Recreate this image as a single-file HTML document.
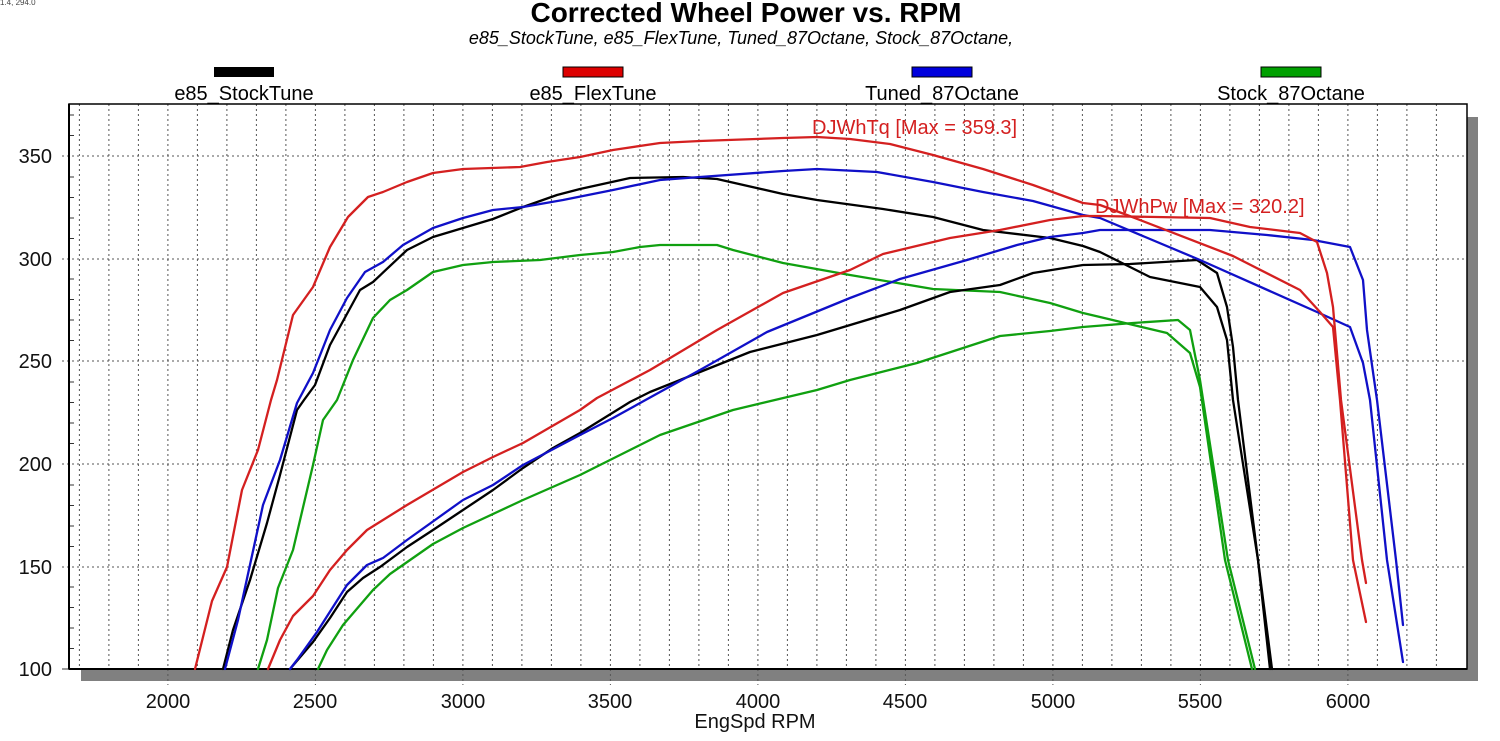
<!DOCTYPE html>
<html><head><meta charset="utf-8"><style>
html,body{margin:0;padding:0;background:#fff;}
svg{display:block;font-family:"Liberation Sans",Arial,sans-serif;}
</style></head><body>
<svg width="1500" height="741" viewBox="0 0 1500 741" xmlns="http://www.w3.org/2000/svg">
<rect width="1500" height="741" fill="#fff"/>
<text x="0" y="5" font-size="8" fill="#444">1.4, 294.0</text>
<text x="746" y="22" font-size="28" font-weight="bold" text-anchor="middle" fill="#000">Corrected Wheel Power vs. RPM</text>
<text x="741" y="44" font-size="18" font-style="italic" text-anchor="middle" fill="#000">e85_StockTune, e85_FlexTune, Tuned_87Octane, Stock_87Octane,</text>
<rect x="214" y="67" width="60" height="10" fill="#000"/>
<rect x="563" y="67" width="60" height="10" fill="#dd0000" stroke="#000" stroke-width="1"/>
<rect x="912" y="67" width="60" height="10" fill="#0000dd" stroke="#000" stroke-width="1"/>
<rect x="1261" y="67" width="60" height="10" fill="#00a000" stroke="#000" stroke-width="1"/>
<g font-size="20" text-anchor="middle" fill="#000">
<text x="244" y="100">e85_StockTune</text>
<text x="593" y="100">e85_FlexTune</text>
<text x="942" y="100">Tuned_87Octane</text>
<text x="1291" y="100">Stock_87Octane</text>
</g>
<rect x="1467" y="117" width="11" height="564" fill="#808080"/>
<rect x="81" y="669" width="1397" height="12" fill="#808080"/>
<rect x="69" y="104" width="1398" height="565" fill="#fff"/>
<g stroke="#555" stroke-width="1" stroke-dasharray="2,3" fill="none">
<path d="M79.4 104V669M108.9 104V669M138.4 104V669M167.9 104V685M197.4 104V669M226.9 104V669M256.4 104V669M285.9 104V669M315.4 104V685M344.9 104V669M374.4 104V669M403.9 104V669M433.4 104V669M462.9 104V685M492.4 104V669M521.9 104V669M551.4 104V669M580.9 104V669M610.4 104V685M639.9 104V669M669.4 104V669M698.9 104V669M728.4 104V669M757.9 104V685M787.4 104V669M816.9 104V669M846.4 104V669M875.9 104V669M905.4 104V685M934.9 104V669M964.4 104V669M993.9 104V669M1023.4 104V669M1052.9 104V685M1082.4 104V669M1111.9 104V669M1141.4 104V669M1170.9 104V669M1200.4 104V685M1229.9 104V669M1259.4 104V669M1288.9 104V669M1318.4 104V669M1347.9 104V685M1377.4 104V669M1406.9 104V669M1436.4 104V669"/>
<path d="M62 156H1467M62 259H1467M62 361H1467M62 464H1467M62 567H1467"/>
</g>
<g stroke="#333" stroke-width="1">
<path d="M69 648.5h5M69 628h5M69 607.5h5M69 587h5M69 546.5h5M69 526h5M69 505.5h5M69 485h5M69 443.5h5M69 423h5M69 402.5h5M69 382h5M69 340.5h5M69 320h5M69 299.5h5M69 279h5M69 238.5h5M69 218h5M69 197.5h5M69 177h5M69 135.5h5M69 115h5M62 669h7"/>
</g>
<rect x="69" y="104" width="1398" height="565" fill="none" stroke="#000" stroke-width="1.5"/>
<line x1="69" y1="104" x2="69" y2="669" stroke="#000" stroke-width="2"/>
<line x1="69" y1="669" x2="1467" y2="669" stroke="#000" stroke-width="2"/>
<g font-size="20" text-anchor="end" fill="#111">
<text x="52" y="676">100</text>
<text x="52" y="574">150</text>
<text x="52" y="471">200</text>
<text x="52" y="368">250</text>
<text x="52" y="266">300</text>
<text x="52" y="163">350</text>
</g>
<g font-size="20" text-anchor="middle" fill="#111">
<text x="168" y="708">2000</text>
<text x="315" y="708">2500</text>
<text x="463" y="708">3000</text>
<text x="610" y="708">3500</text>
<text x="758" y="708">4000</text>
<text x="905" y="708">4500</text>
<text x="1053" y="708">5000</text>
<text x="1200" y="708">5500</text>
<text x="1348" y="708">6000</text>
<text x="755" y="728">EngSpd RPM</text>
</g>
<g fill="none" stroke-linejoin="round" stroke-linecap="round" stroke-width="2.3">
<polyline stroke="#10a010" points="258,669 267,640 278,588 293,550 313,465 323,420 337,400 353,360 373,318 390,300 407,290 433,272 463,265 493,262 540,260 580,255 613,252 640,247 660,245 717,245 733,250 783,263 850,275 933,289 1000,292 1050,303 1083,313 1100,317 1167,333 1190,353 1200,387 1212,470 1225,560 1252,669"/>
<polyline stroke="#10a010" points="318,669 327,650 343,625 373,590 390,574 433,544 463,528 523,500 580,475 610,460 660,435 733,410 817,390 850,380 917,363 1000,336 1050,331 1083,327 1133,323 1178,320 1190,330 1200,380 1214,470 1228,560 1255,669"/>
<polyline stroke="#000" points="223,669 233,630 250,580 267,523 280,475 297,410 304,400 315,385 330,345 360,290 373,282 407,250 433,237 463,228 493,219 523,207 557,195 580,189 630,178 683,177 717,179 783,194 817,200 883,209 933,217 983,230 1050,238 1083,246 1100,252 1150,277 1200,287 1217,307 1227,340 1233,400 1258,560 1272,669"/>
<polyline stroke="#000" points="290,669 313,642 330,618 347,592 363,578 380,567 407,547 433,530 463,510 493,490 523,468 553,448 580,433 630,402 650,392 700,372 750,352 817,335 900,310 950,292 1000,285 1033,273 1083,265 1130,264 1197,260 1217,273 1227,307 1233,347 1238,400 1258,560 1270,669"/>
<polyline stroke="#1010c8" points="225,669 238,620 263,505 280,460 297,403 313,373 330,330 347,298 365,272 383,262 403,245 433,228 463,218 493,210 523,207 563,200 613,190 660,180 700,177 783,171 817,169 877,172 933,182 983,192 1033,201 1083,215 1100,218 1200,260 1317,312 1350,327 1363,363 1370,400 1387,560 1403,662"/>
<polyline stroke="#1010c8" points="290,669 297,660 317,632 347,585 367,565 383,558 407,540 463,500 493,485 523,465 580,435 613,418 660,392 700,370 767,332 850,298 900,279 967,260 1017,245 1050,237 1083,233 1100,230 1210,230 1267,235 1313,240 1350,247 1363,280 1367,330 1377,400 1396,560 1403,625"/>
<polyline stroke="#d42020" points="195,669 212,601 227,567 242,490 258,450 271,400 277,380 293,315 313,287 330,247 348,217 368,197 383,192 407,182 433,173 463,169 520,167 547,162 580,157 613,150 660,143 700,141 783,138 817,137 850,139 890,144 933,155 983,169 1033,185 1083,203 1100,205 1127,215 1233,256 1300,290 1320,312 1333,327 1340,400 1353,560 1366,622"/>
<polyline stroke="#d42020" points="268,669 280,640 293,616 313,596 330,570 347,550 367,530 407,505 463,472 493,457 523,443 580,410 597,398 650,370 717,330 783,293 850,270 883,254 950,238 1000,230 1050,220 1083,216 1100,216 1210,218 1250,227 1300,233 1317,242 1327,273 1333,307 1341,400 1362,560 1366,583"/>
</g>
<g font-size="20" fill="#d42020">
<text x="812" y="134">DJWhTq [Max = 359.3]</text>
<text x="1095" y="213">DJWhPw [Max = 320.2]</text>
</g>
</svg>
</body></html>
